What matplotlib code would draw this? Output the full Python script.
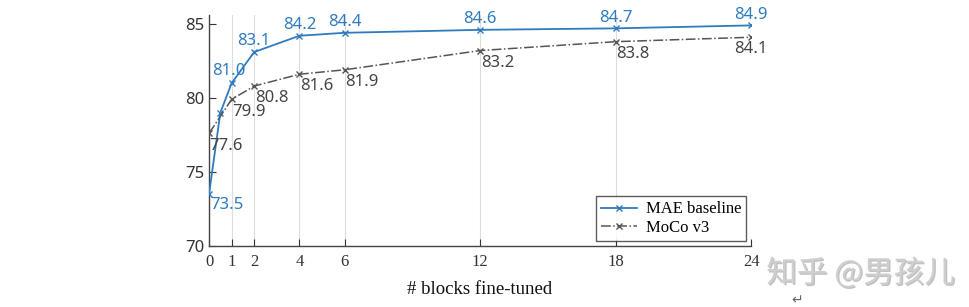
import matplotlib
matplotlib.use("Agg")
import matplotlib.pyplot as plt
import matplotlib.patheffects as pe

blocks_mae = [0, 0.5, 1, 2, 4, 6, 12, 18, 24]
mae = [73.5, 79.0, 81.0, 83.1, 84.2, 84.4, 84.6, 84.7, 84.9]
mae_labels = ["73.5", None, "81.0", "83.1", "84.2", "84.4", "84.6", "84.7", "84.9"]
blocks_moco = [0, 1, 2, 4, 6, 12, 18, 24]
moco = [77.6, 79.9, 80.8, 81.6, 81.9, 83.2, 83.8, 84.1]
moco_labels = ["77.6", "79.9", "80.8", "81.6", "81.9", "83.2", "83.8", "84.1"]
xticks = [0, 1, 2, 4, 6, 12, 18, 24]
yticks = [70, 75, 80, 85]

plt.rcParams['font.family'] = ['Liberation Serif', 'DejaVu Serif']
sans = ['Noto Sans', 'DejaVu Sans']
blue = '#2e7bbf'
gray = '#555555'

fig = plt.figure(figsize=(9.7, 3.07), dpi=100)
ax = fig.add_axes([0.2155, 0.199, 0.5588, 0.752])

ax.plot(blocks_mae, mae, color=blue, lw=1.3, marker='x', ms=4, mew=1.0, label='MAE baseline', zorder=3)
ax.plot(blocks_moco, moco, color=gray, lw=1.1, ls='-.', marker='x', ms=4, mew=1.0, label='MoCo v3', zorder=3)

for x, y, t in zip(blocks_mae, mae, mae_labels):
    if t is None:
        continue
    if x == 0:
        off, ha, va = (1, -2), 'left', 'top'
    elif x == 1:
        off, ha, va = (-2, 3), 'center', 'bottom'
    else:
        off, ha, va = (0, 2), 'center', 'bottom'
    ax.annotate(t, (x, y), xytext=off, textcoords='offset points', ha=ha, va=va,
                color=blue, fontsize=12, family=sans)

for x, y, t in zip(blocks_moco, moco, moco_labels):
    if x == 24:
        off, ha = (0, -3), 'center'
    else:
        off, ha = (0.5, -3), 'left'
    ax.annotate(t, (x, y), xytext=off, textcoords='offset points', ha=ha, va='top',
                color='#444444', fontsize=12, family=sans)

ax.set_xlim(0, 24)
ax.set_ylim(70, 85.6)
ax.set_xticks(xticks)
ax.set_yticks(yticks)
ax.tick_params(direction='in', length=5, labelsize=12, width=0.8, colors='#333333')
ax.tick_params(axis='x', pad=6)
for lab in ax.get_yticklabels():
    lab.set_family(sans)
ax.xaxis.grid(True, color='#dddddd', lw=0.8)
ax.set_axisbelow(True)
for s in ['top', 'right']:
    ax.spines[s].set_visible(False)
for s in ['left', 'bottom']:
    ax.spines[s].set_color('#444444')
    ax.spines[s].set_linewidth(1.0)
ax.set_xlabel('# blocks fine-tuned', fontsize=13.5, labelpad=8, color='#111111')

leg = ax.legend(loc='lower right', fontsize=12, frameon=True, fancybox=False,
                edgecolor='#333333', handlelength=2.2, borderpad=0.3,
                labelspacing=0.15, handletextpad=0.5, borderaxespad=0.3,
                bbox_to_anchor=(1.0, 0.0))
leg.get_frame().set_linewidth(1.0)

fig.text(0.79, 0.11, '知乎 @男孩儿', fontsize=22, color='#cfcfcf',
         family=['Noto Sans CJK SC', 'DejaVu Sans'], ha='left', va='center',
         path_effects=[pe.withSimplePatchShadow(offset=(1, -1), shadow_rgbFace='#999999', alpha=0.6)])
fig.text(0.822, 0.02, '↵', fontsize=10, color='#666666', family=['DejaVu Sans'], ha='center', va='center')

fig.savefig('out.png', dpi=100, facecolor='white')
